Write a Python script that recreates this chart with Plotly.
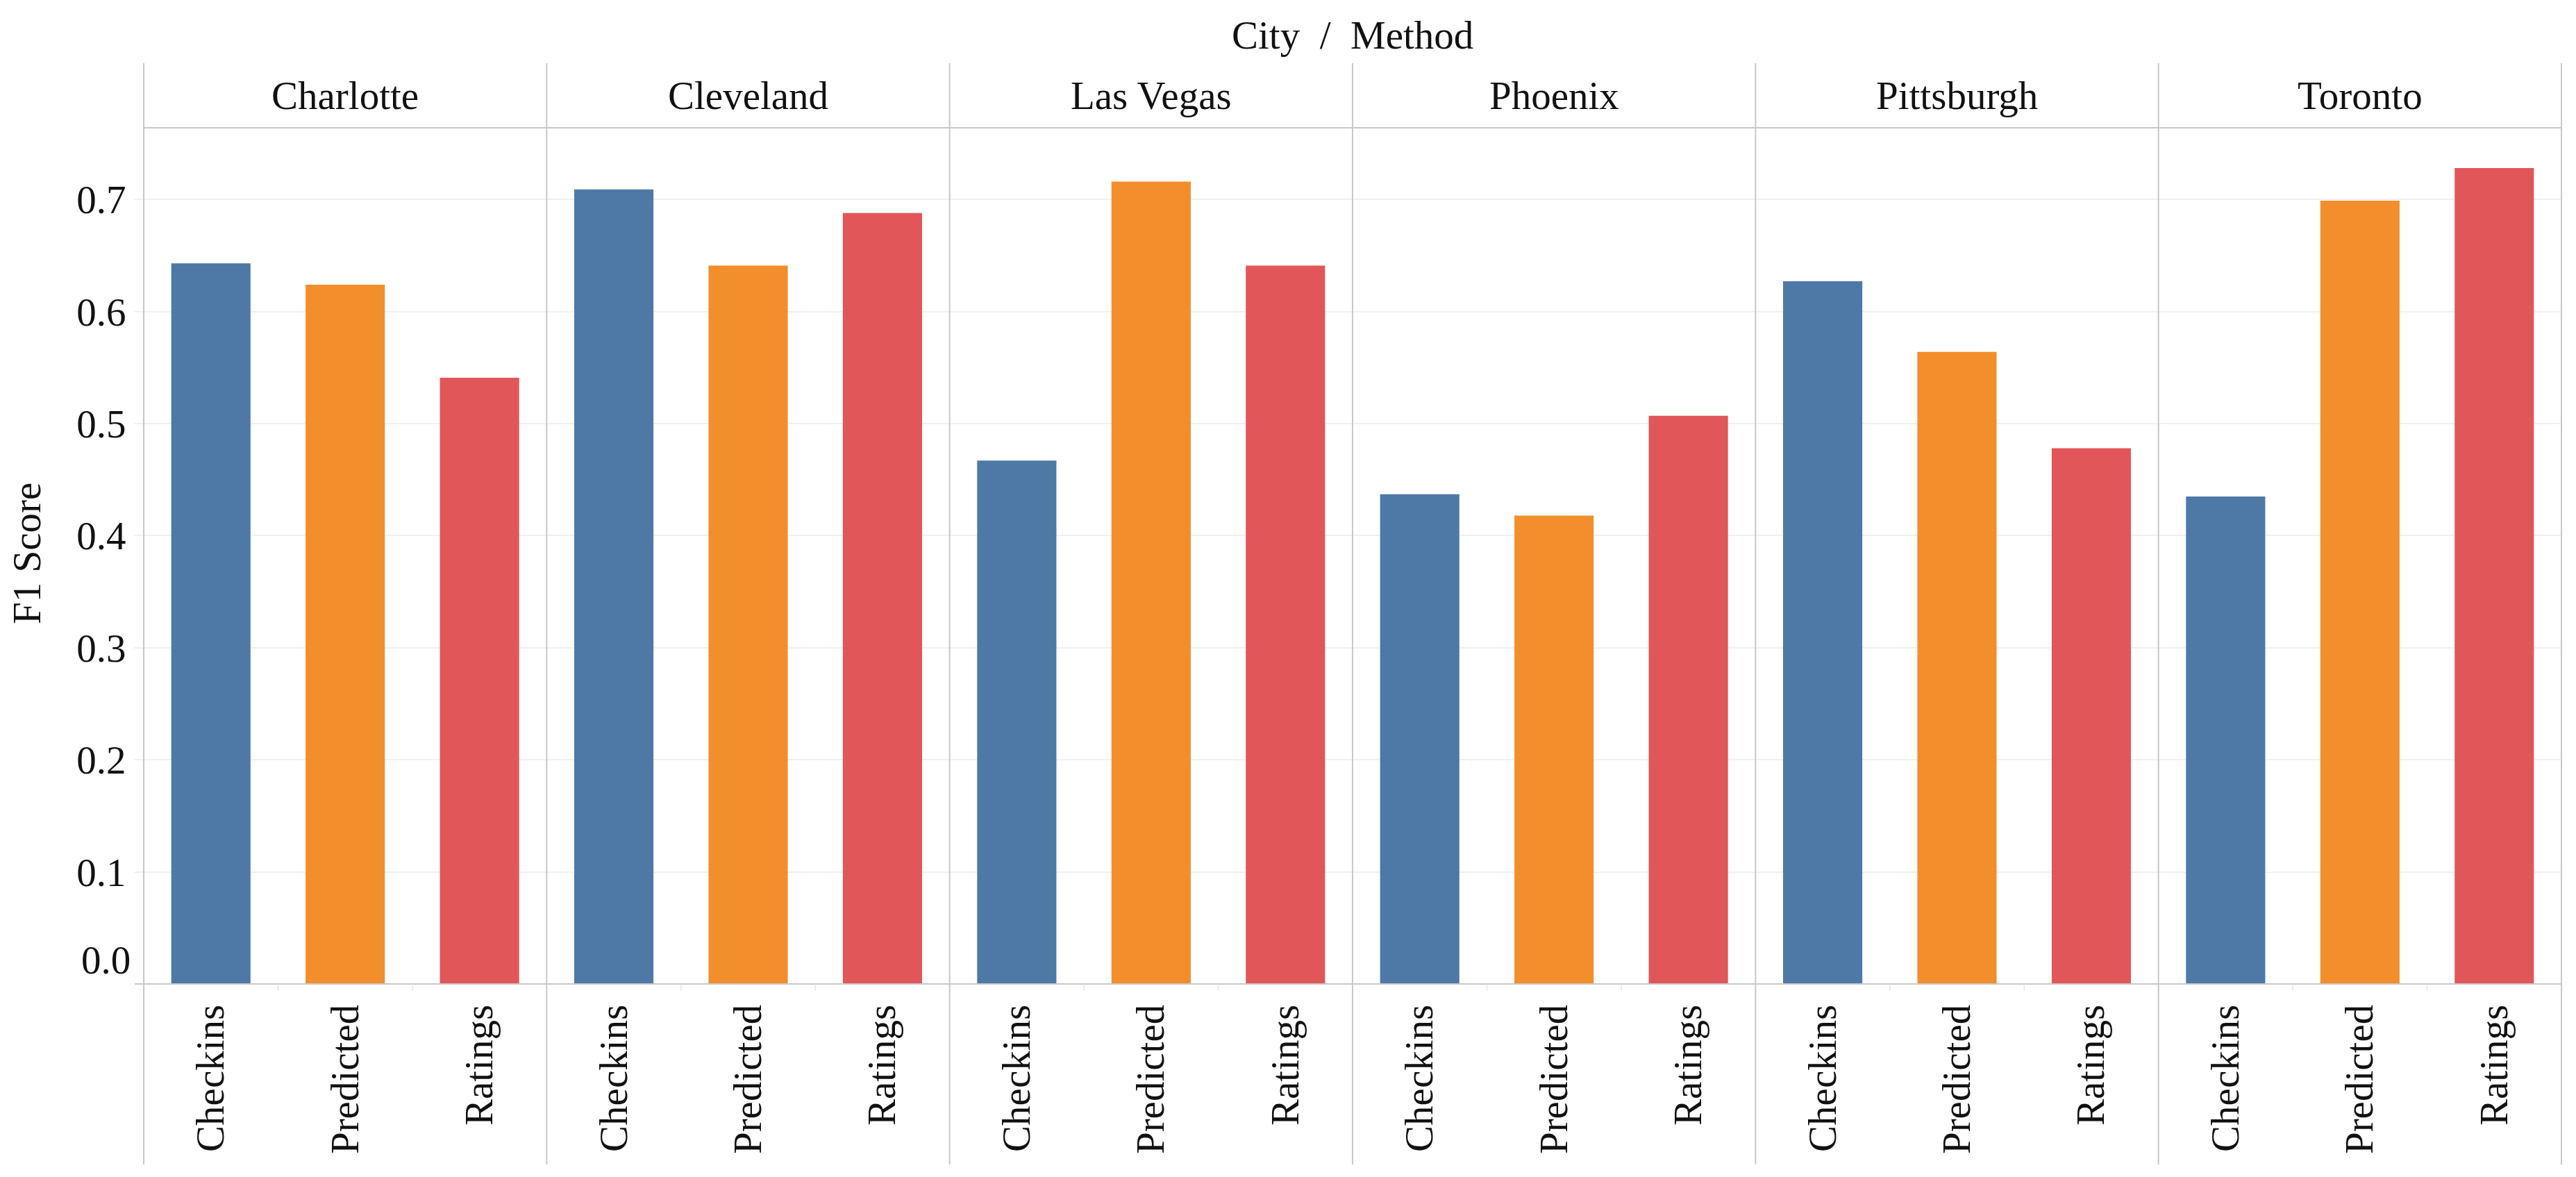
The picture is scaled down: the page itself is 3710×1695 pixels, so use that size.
import plotly.graph_objects as go
from plotly.subplots import make_subplots

cities = ["Charlotte", "Cleveland", "Las Vegas", "Phoenix", "Pittsburgh", "Toronto"]
methods = ["Checkins", "Predicted", "Ratings"]
checkins = [0.643, 0.709, 0.467, 0.437, 0.627, 0.435]
predicted = [0.624, 0.641, 0.716, 0.418, 0.564, 0.699]
ratings = [0.541, 0.688, 0.641, 0.507, 0.478, 0.728]
method_colors = ["#4e79a7", "#f28e2b", "#e15759"]
y_ticks = [0.1, 0.2, 0.3, 0.4, 0.5, 0.6, 0.7]

# page body margin offset (browser default 8px)
OFF = 8
W, H = 3710 - 2 * OFF, 1695 - 2 * OFF
# plot area in screenshot pixels
X0, X1, Y0, Y1 = 207, 3689, 184, 1417
ML, MR = X0 - OFF, W - (X1 - OFF)
MT, MB = Y0 - OFF, H - (Y1 - OFF)
PW = X1 - X0
PH = Y1 - Y0


def px(x):
    return (x - X0) / PW


def py(y):
    return (Y1 - y) / PH


FONT = "Liberation Serif, Times New Roman, serif"
FS = 57
LINE = "#c8c8c8"
GRID = "#f0f0f0"
TXT = "#111111"

n = len(cities)
fig = make_subplots(rows=1, cols=n, shared_yaxes=True, horizontal_spacing=0)

for i, city in enumerate(cities):
    vals = [checkins[i], predicted[i], ratings[i]]
    fig.add_trace(
        go.Bar(x=methods, y=vals, marker=dict(color=method_colors, line=dict(width=0)),
               showlegend=False, hoverinfo="x+y"),
        row=1, col=i + 1,
    )

fig.update_xaxes(
    range=[-0.5, 2.5], showgrid=False, zeroline=False, showline=False,
    tickangle=-90, tickfont=dict(family=FONT, size=FS, color=TXT),
    ticks="outside", ticklen=6, tickcolor="rgba(0,0,0,0)",
)
fig.update_yaxes(
    range=[0, 0.764], tickvals=y_ticks, ticktext=[f"{v:.1f}" for v in y_ticks],
    showgrid=True, gridcolor=GRID, gridwidth=2, zeroline=False, showline=False,
    ticks="outside", ticklen=13, tickcolor=GRID, tickwidth=2,
    tickfont=dict(family=FONT, size=FS, color=TXT),
)

shapes = []
for i in range(n + 1):
    shapes.append(dict(type="line", xref="paper", yref="paper", x0=i / n, x1=i / n,
                       y0=py(1677), y1=py(91), line=dict(color=LINE, width=2)))
shapes.append(dict(type="line", xref="paper", yref="paper", x0=0, x1=1, y0=1, y1=1,
                   line=dict(color=LINE, width=2)))
shapes.append(dict(type="line", xref="paper", yref="paper", x0=px(194), x1=1, y0=0, y1=0,
                   line=dict(color=LINE, width=2)))
for i in range(n):
    xr = "x" if i == 0 else f"x{i + 1}"
    for xv in (0.5, 1.5):
        shapes.append(dict(type="line", xref=xr, yref="paper", x0=xv, x1=xv,
                           y0=0, y1=py(Y1 + 10), line=dict(color="#e6e6e6", width=1.5)))

annotations = []
for i, city in enumerate(cities):
    annotations.append(dict(text=city, xref="paper", yref="paper", x=(i + 0.5) / n,
                            y=py(137), xanchor="center", yanchor="middle",
                            showarrow=False, font=dict(family=FONT, size=FS, color=TXT)))
annotations.append(dict(text="City\u00a0 /\u00a0 Method", xref="paper", yref="paper", x=0.5,
                        y=py(50), xanchor="center", yanchor="middle",
                        showarrow=False, font=dict(family=FONT, size=FS, color=TXT)))
annotations.append(dict(text="F1 Score", xref="paper", yref="paper", x=px(38),
                        y=py(797), xanchor="center", yanchor="middle",
                        textangle=-90, showarrow=False,
                        font=dict(family=FONT, size=FS, color=TXT)))
annotations.append(dict(text="0.0", xref="paper", yref="y", x=px(190), y=0, xanchor="right",
                        yanchor="middle", yshift=35, showarrow=False,
                        font=dict(family=FONT, size=FS, color=TXT)))

fig.update_layout(
    width=W, height=H,
    margin=dict(l=ML, r=MR, t=MT, b=MB),
    paper_bgcolor="white", plot_bgcolor="white",
    bargap=0.41,
    shapes=shapes, annotations=annotations,
    font=dict(family=FONT, size=FS, color=TXT),
)

fig.write_html("out.html")
